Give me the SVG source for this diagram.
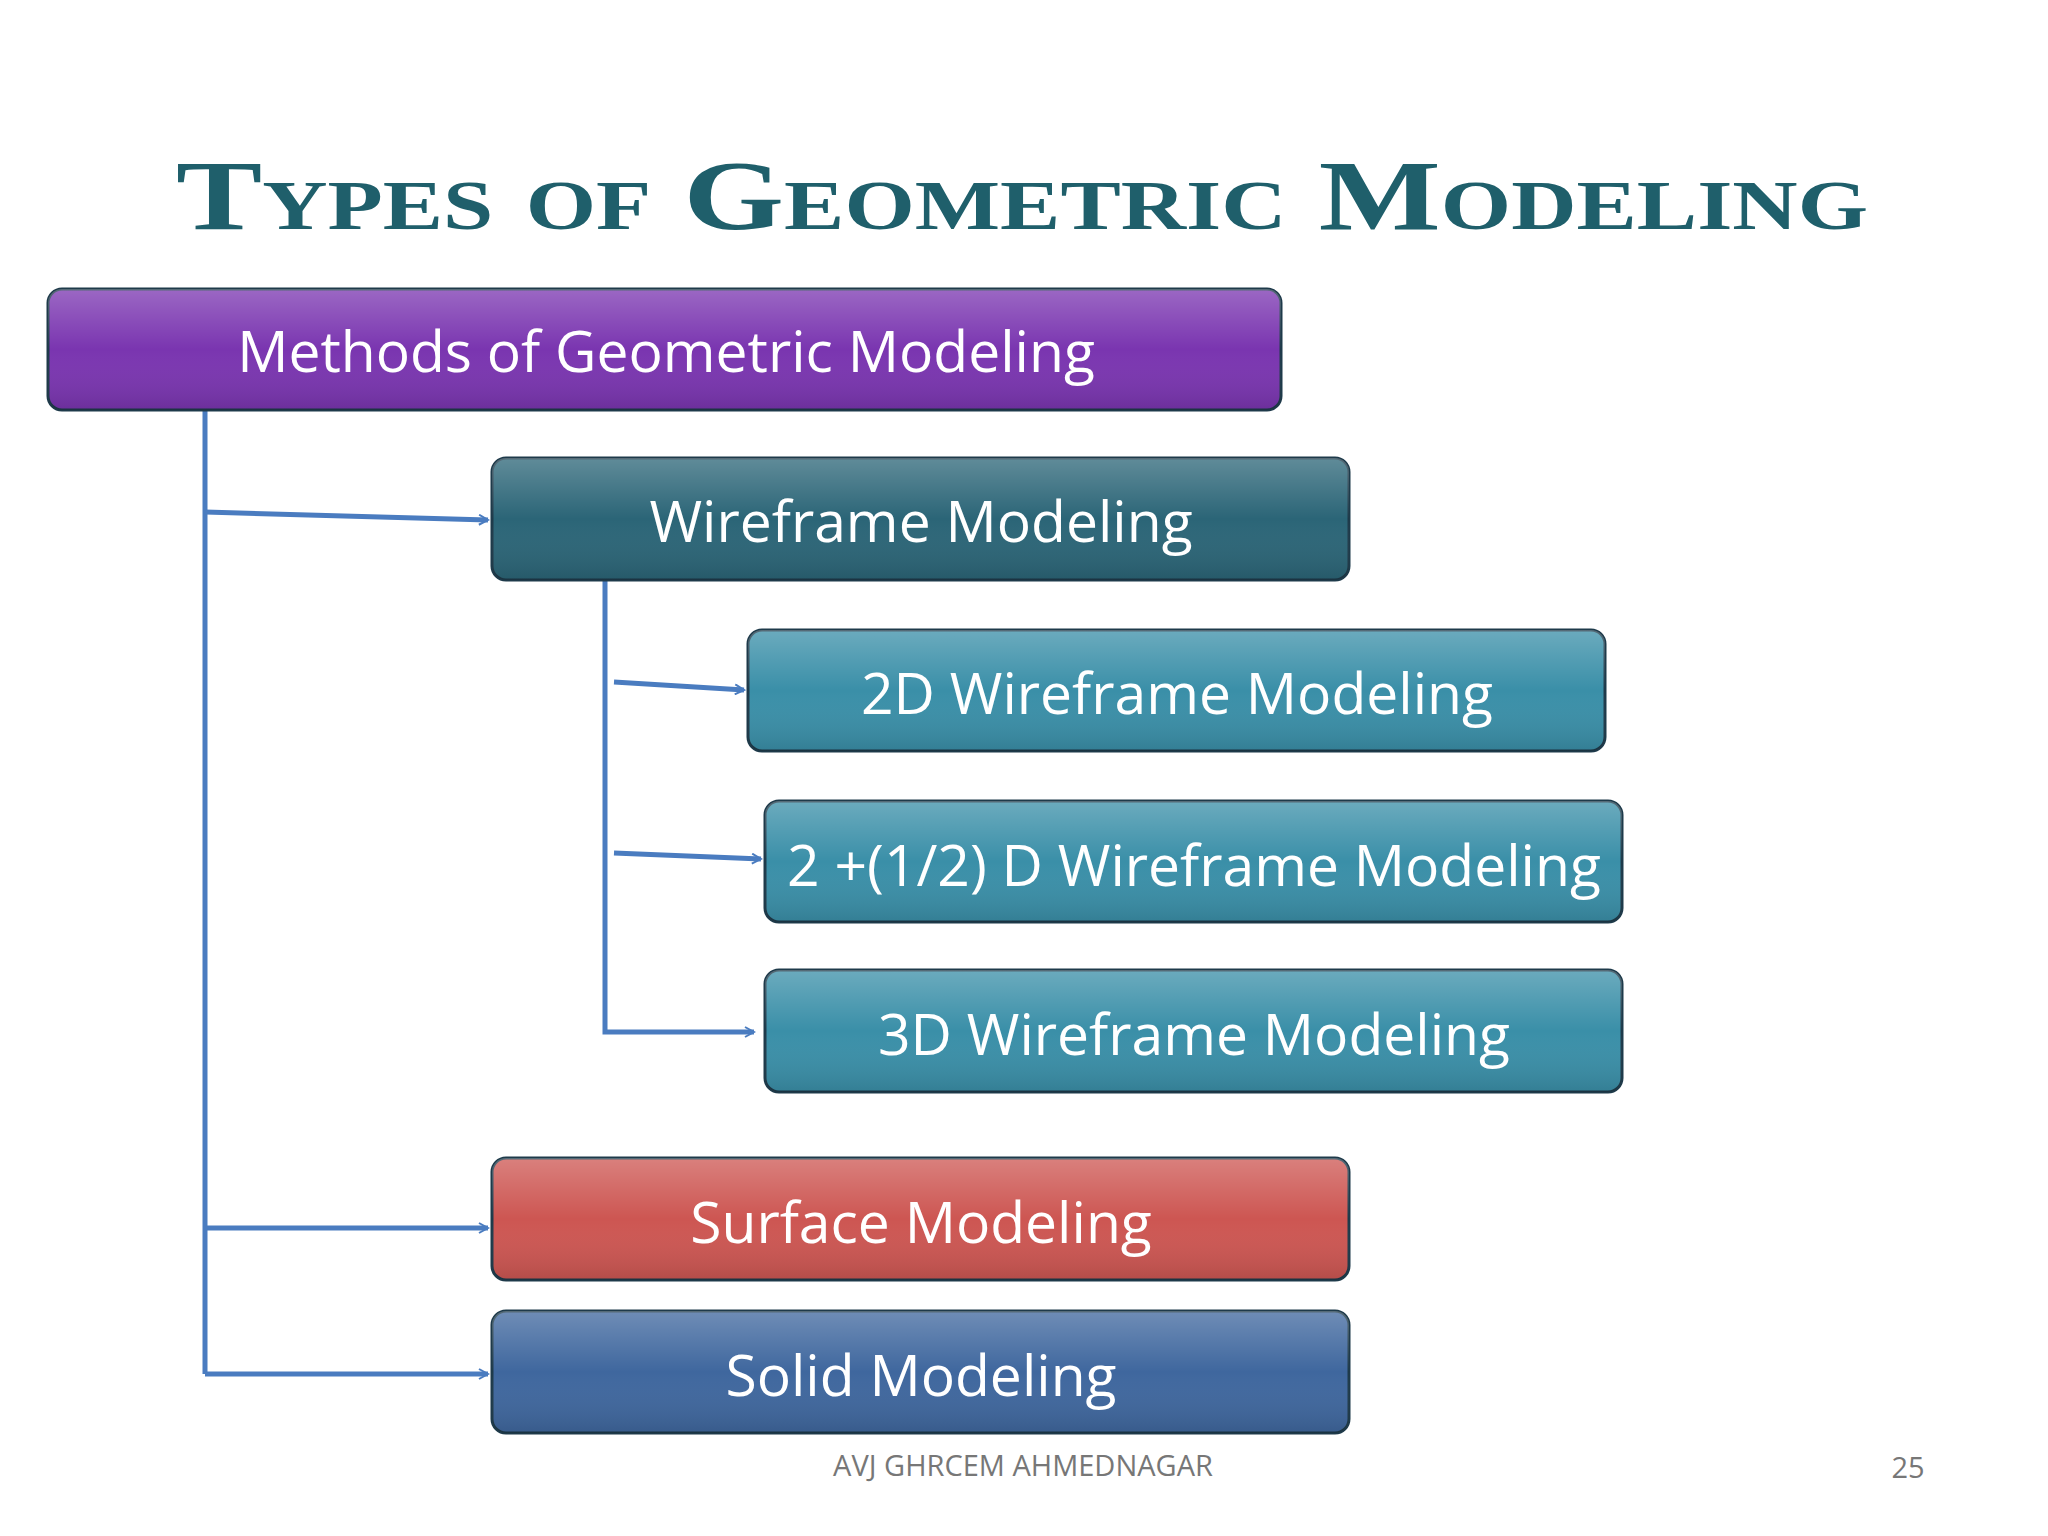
<svg xmlns="http://www.w3.org/2000/svg" width="2048" height="1536" viewBox="0 0 2048 1536">
<defs>
<style>
.box{stroke:#1e3a4a;stroke-width:3}
.t{font-family:"Open Sans","Noto Sans",sans-serif;font-size:57px;fill:#fff;text-anchor:middle}
.c{stroke:#4a7cc0;stroke-width:5;fill:none}
</style>
<marker id="ah" markerWidth="12" markerHeight="12" refX="10" refY="6" orient="auto" markerUnits="userSpaceOnUse" viewBox="0 0 12 12">
<path d="M1,1 L10,6 L1,11" fill="none" stroke="#4a7cc0" stroke-width="2"/>
</marker>
<linearGradient id="sh" x1="0" y1="0" x2="0" y2="1"><stop offset="0" stop-color="#fff" stop-opacity="0.25"/><stop offset="0.5" stop-color="#fff" stop-opacity="0"/><stop offset="1" stop-color="#000" stop-opacity="0.12"/></linearGradient>
</defs>
<rect width="2048" height="1536" fill="#fff"/>
<text x="1022" y="229" text-anchor="middle" font-family="Liberation Serif,serif" font-weight="bold" font-size="100" fill="#1f5f6b" style="font-variant:small-caps" textLength="1692" lengthAdjust="spacingAndGlyphs">Types of Geometric Modeling</text>
<g id="connectors">
<polyline class="c" points="205,410 205,1374"/>
<line class="c" x1="205" y1="512" x2="488" y2="520" marker-end="url(#ah)"/>
<line class="c" x1="205" y1="1228" x2="488" y2="1228" marker-end="url(#ah)"/>
<line class="c" x1="205" y1="1374" x2="488" y2="1374" marker-end="url(#ah)"/>
<polyline class="c" points="605,580 605,1032 754,1032" marker-end="url(#ah)"/>
<line class="c" x1="614" y1="682" x2="744" y2="690" marker-end="url(#ah)"/>
<line class="c" x1="614" y1="853" x2="761" y2="859" marker-end="url(#ah)"/>
</g>
<g id="n1"><rect class="box" x="48" y="289" width="1233" height="121" rx="14" fill="#7a35b0"/><rect x="48" y="289" width="1233" height="121" rx="14" fill="url(#sh)"/><text class="t" x="666" y="372">Methods of Geometric Modeling</text></g>
<g id="n2"><rect class="box" x="492" y="458" width="857" height="122" rx="14" fill="#2b6577"/><rect x="492" y="458" width="857" height="122" rx="14" fill="url(#sh)"/><text class="t" x="921" y="542">Wireframe Modeling</text></g>
<g id="n3"><rect class="box" x="748" y="630" width="857" height="121" rx="14" fill="#3a8fa8"/><rect x="748" y="630" width="857" height="121" rx="14" fill="url(#sh)"/><text class="t" x="1177" y="714">2D Wireframe Modeling</text></g>
<g id="n4"><rect class="box" x="765" y="801" width="857" height="121" rx="14" fill="#3a8fa8" stroke="#8a6a9a"/><rect x="765" y="801" width="857" height="121" rx="14" fill="url(#sh)"/><text class="t" x="1194" y="886">2 +(1/2) D Wireframe Modeling</text></g>
<g id="n5"><rect class="box" x="765" y="970" width="857" height="122" rx="14" fill="#3a8fa8"/><rect x="765" y="970" width="857" height="122" rx="14" fill="url(#sh)"/><text class="t" x="1194" y="1055">3D Wireframe Modeling</text></g>
<g id="n6"><rect class="box" x="492" y="1158" width="857" height="122" rx="14" fill="#cd5652"/><rect x="492" y="1158" width="857" height="122" rx="14" fill="url(#sh)"/><text class="t" x="921" y="1243">Surface Modeling</text></g>
<g id="n7"><rect class="box" x="492" y="1311" width="857" height="122" rx="14" fill="#3f679e"/><rect x="492" y="1311" width="857" height="122" rx="14" fill="url(#sh)"/><text class="t" x="921" y="1396">Solid Modeling</text></g>
<text x="1023" y="1476" text-anchor="middle" font-family="Open Sans,sans-serif" font-size="29" fill="#777">AVJ GHRCEM AHMEDNAGAR</text>
<text x="1908" y="1478" text-anchor="middle" font-family="Open Sans,sans-serif" font-size="29" fill="#777">25</text>
</svg>
